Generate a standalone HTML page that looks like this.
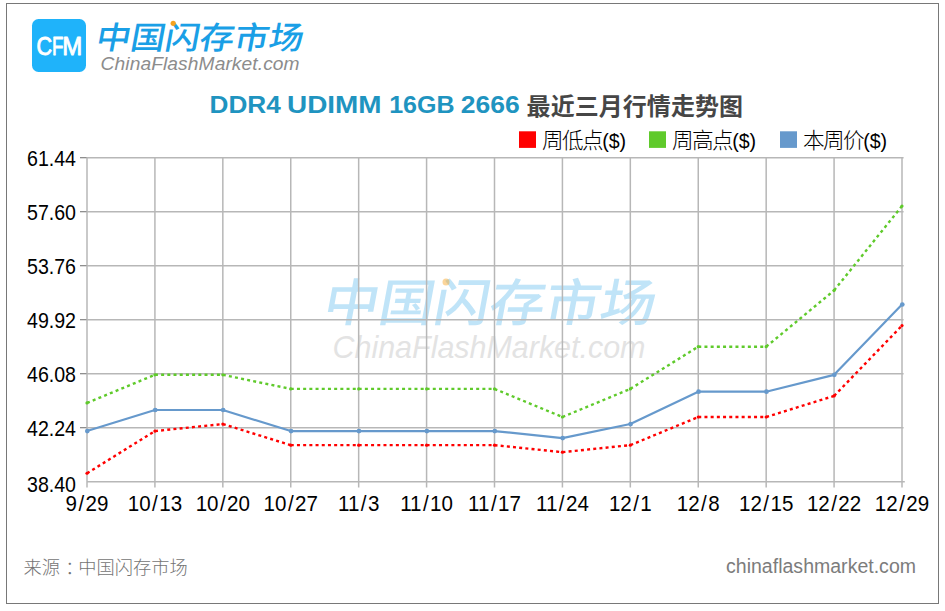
<!DOCTYPE html>
<html lang="zh-CN"><head><meta charset="utf-8"><title>DDR4 UDIMM 16GB 2666 最近三月行情走势图</title>
<style>html,body{margin:0;padding:0;background:#fff;}body{width:945px;height:611px;overflow:hidden;}svg{display:block;}text{font-family:"Liberation Sans", "Noto Sans CJK SC", sans-serif;}</style></head><body>
<svg width="945" height="611" viewBox="0 0 945 611">
<rect x="0" y="0" width="945" height="611" fill="#fff"/>
<rect x="6.5" y="3.5" width="932" height="600" fill="#fff" stroke="#787878" stroke-width="1"/>
<rect x="32" y="19" width="54" height="53" rx="6.5" ry="6.5" fill="#1fb3fa"/>
<g font-size="26.4" fill="#fff" stroke="#fff" stroke-width="0.9" stroke-linejoin="round">
<text x="36.4" y="54.6" textLength="15.6" lengthAdjust="spacingAndGlyphs">C</text>
<text x="52.1" y="54.6" textLength="11.4" lengthAdjust="spacingAndGlyphs">F</text>
<text x="62.3" y="54.6" textLength="20" lengthAdjust="spacingAndGlyphs">M</text>
</g>
<g transform="translate(94.5,48.6) skewX(-10.5) scale(1.1,1)"><text x="0" y="0" font-size="31.5" font-weight="500" fill="#1a9fe6" textLength="188.5" lengthAdjust="spacing">中国闪存市场</text></g>
<circle cx="173.2" cy="23.3" r="2.6" fill="#f6a21e"/>
<text x="100.6" y="70.3" font-size="19.2" font-style="italic" fill="#8c8c8c" textLength="199" lengthAdjust="spacing">ChinaFlashMarket.com</text>
<g font-size="24.6" font-weight="700" fill="#1f94c0">
<text x="209.6" y="112.6" textLength="71.2" lengthAdjust="spacingAndGlyphs">DDR4</text>
<text x="287" y="112.6" textLength="94.6" lengthAdjust="spacingAndGlyphs">UDIMM</text>
<text x="389.2" y="112.6" textLength="65.4" lengthAdjust="spacingAndGlyphs">16GB</text>
<text x="460.8" y="112.6" textLength="59" lengthAdjust="spacingAndGlyphs">2666</text>
</g>
<text x="526.6" y="114.7" font-size="24" font-weight="700" fill="#464646" textLength="216.4" lengthAdjust="spacing">最近三月行情走势图</text>
<rect x="519" y="131.3" width="17" height="16.6" fill="#ff0000"/>
<text x="542" y="147.9" font-size="21.6" font-weight="300" fill="#000" letter-spacing="-1.6">周低点<tspan font-size="19.6" letter-spacing="0" dx="0.2" dy="-0.4">($)</tspan></text>
<rect x="649" y="131.3" width="17" height="16.6" fill="#5fca2b"/>
<text x="672" y="147.9" font-size="21.6" font-weight="300" fill="#000" letter-spacing="-1.6">周高点<tspan font-size="19.6" letter-spacing="0" dx="0.2" dy="-0.4">($)</tspan></text>
<rect x="780" y="131.3" width="17" height="16.6" fill="#6699cc"/>
<text x="803" y="147.9" font-size="21.6" font-weight="300" fill="#000" letter-spacing="-1.6">本周价<tspan font-size="19.6" letter-spacing="0" dx="0.2" dy="-0.4">($)</tspan></text>
<g opacity="0.27">
<g transform="translate(321,320.5) skewX(-10.5) scale(1.1,1)"><text x="0" y="0" font-size="50.7" font-weight="500" fill="#1a9fe6" textLength="302" lengthAdjust="spacing">中国闪存市场</text></g>
<text x="332.5" y="358.3" font-size="30.5" font-style="italic" fill="#888888" opacity="0.85" textLength="313" lengthAdjust="spacing">ChinaFlashMarket.com</text>
</g>
<circle cx="446" cy="282" r="3.5" fill="#f6a21e" opacity="0.45"/>
<g stroke="#b7b7b7" stroke-width="1.5" fill="none" transform="translate(0,-0.25)">
<line x1="87.00" y1="158" x2="87.00" y2="487.8"/>
<line x1="154.92" y1="158" x2="154.92" y2="487.8"/>
<line x1="222.83" y1="158" x2="222.83" y2="487.8"/>
<line x1="290.75" y1="158" x2="290.75" y2="487.8"/>
<line x1="358.67" y1="158" x2="358.67" y2="487.8"/>
<line x1="426.58" y1="158" x2="426.58" y2="487.8"/>
<line x1="494.50" y1="158" x2="494.50" y2="487.8"/>
<line x1="562.42" y1="158" x2="562.42" y2="487.8"/>
<line x1="630.33" y1="158" x2="630.33" y2="487.8"/>
<line x1="698.25" y1="158" x2="698.25" y2="487.8"/>
<line x1="766.17" y1="158" x2="766.17" y2="487.8"/>
<line x1="834.08" y1="158" x2="834.08" y2="487.8"/>
<line x1="902.00" y1="158" x2="902.00" y2="487.8"/>
<line x1="80" y1="158" x2="903.6" y2="158"/>
<line x1="80" y1="212" x2="903.6" y2="212"/>
<line x1="80" y1="266" x2="903.6" y2="266"/>
<line x1="80" y1="320" x2="903.6" y2="320"/>
<line x1="80" y1="374" x2="903.6" y2="374"/>
<line x1="80" y1="428" x2="903.6" y2="428"/>
<line x1="87" y1="482" x2="904.8" y2="482"/>
</g>
<g stroke="#8e8e8e" stroke-width="1" fill="none">
<line x1="80" y1="157.5" x2="86.4" y2="157.5"/>
<line x1="80" y1="211.5" x2="86.4" y2="211.5"/>
<line x1="80" y1="265.5" x2="86.4" y2="265.5"/>
<line x1="80" y1="319.5" x2="86.4" y2="319.5"/>
<line x1="80" y1="373.5" x2="86.4" y2="373.5"/>
<line x1="80" y1="427.5" x2="86.4" y2="427.5"/>
</g>
<g font-size="21.4" fill="#000" text-anchor="end">
<text transform="translate(76.0,166.3) scale(0.915,1)" x="0" y="0">61.44</text>
<text transform="translate(76.0,220.3) scale(0.915,1)" x="0" y="0">57.60</text>
<text transform="translate(76.0,274.3) scale(0.915,1)" x="0" y="0">53.76</text>
<text transform="translate(76.0,328.3) scale(0.915,1)" x="0" y="0">49.92</text>
<text transform="translate(76.0,382.3) scale(0.915,1)" x="0" y="0">46.08</text>
<text transform="translate(76.0,436.3) scale(0.915,1)" x="0" y="0">42.24</text>
<text transform="translate(76.0,491.9) scale(0.915,1)" x="0" y="0">38.40</text>
</g>
<g font-size="21.4" fill="#000" text-anchor="middle">
<text transform="translate(87.00,510.7) scale(0.96,1)" x="0" y="0">9<tspan dx="1.5">/</tspan><tspan dx="1.5">29</tspan></text>
<text transform="translate(154.92,510.7) scale(0.96,1)" x="0" y="0">10<tspan dx="1.5">/</tspan><tspan dx="1.5">13</tspan></text>
<text transform="translate(222.83,510.7) scale(0.96,1)" x="0" y="0">10<tspan dx="1.5">/</tspan><tspan dx="1.5">20</tspan></text>
<text transform="translate(290.75,510.7) scale(0.96,1)" x="0" y="0">10<tspan dx="1.5">/</tspan><tspan dx="1.5">27</tspan></text>
<text transform="translate(358.67,510.7) scale(0.96,1)" x="0" y="0">11<tspan dx="1.5">/</tspan><tspan dx="1.5">3</tspan></text>
<text transform="translate(426.58,510.7) scale(0.96,1)" x="0" y="0">11<tspan dx="1.5">/</tspan><tspan dx="1.5">10</tspan></text>
<text transform="translate(494.50,510.7) scale(0.96,1)" x="0" y="0">11<tspan dx="1.5">/</tspan><tspan dx="1.5">17</tspan></text>
<text transform="translate(562.42,510.7) scale(0.96,1)" x="0" y="0">11<tspan dx="1.5">/</tspan><tspan dx="1.5">24</tspan></text>
<text transform="translate(630.33,510.7) scale(0.96,1)" x="0" y="0">12<tspan dx="1.5">/</tspan><tspan dx="1.5">1</tspan></text>
<text transform="translate(698.25,510.7) scale(0.96,1)" x="0" y="0">12<tspan dx="1.5">/</tspan><tspan dx="1.5">8</tspan></text>
<text transform="translate(766.17,510.7) scale(0.96,1)" x="0" y="0">12<tspan dx="1.5">/</tspan><tspan dx="1.5">15</tspan></text>
<text transform="translate(834.08,510.7) scale(0.96,1)" x="0" y="0">12<tspan dx="1.5">/</tspan><tspan dx="1.5">22</tspan></text>
<text transform="translate(902.00,510.7) scale(0.96,1)" x="0" y="0">12<tspan dx="1.5">/</tspan><tspan dx="1.5">29</tspan></text>
</g>
<g fill="none" stroke="#ff0000" stroke-width="2.4" stroke-dasharray="3 3.2">
<line x1="87.00" y1="473.26" x2="154.92" y2="431.07"/>
<line x1="154.92" y1="431.07" x2="222.83" y2="424.04"/>
<line x1="222.83" y1="424.04" x2="290.75" y2="445.14"/>
<line x1="290.75" y1="445.14" x2="358.67" y2="445.14"/>
<line x1="358.67" y1="445.14" x2="426.58" y2="445.14"/>
<line x1="426.58" y1="445.14" x2="494.50" y2="445.14"/>
<line x1="494.50" y1="445.14" x2="562.42" y2="452.17"/>
<line x1="562.42" y1="452.17" x2="630.33" y2="445.14"/>
<line x1="630.33" y1="445.14" x2="698.25" y2="417.01"/>
<line x1="698.25" y1="417.01" x2="766.17" y2="417.01"/>
<line x1="766.17" y1="417.01" x2="834.08" y2="395.92"/>
<line x1="834.08" y1="395.92" x2="902.00" y2="325.61"/>
</g>
<g fill="#ff0000">
<circle cx="87.00" cy="473.26" r="1.6"/>
<circle cx="154.92" cy="431.07" r="1.6"/>
<circle cx="222.83" cy="424.04" r="1.6"/>
<circle cx="290.75" cy="445.14" r="1.6"/>
<circle cx="358.67" cy="445.14" r="1.6"/>
<circle cx="426.58" cy="445.14" r="1.6"/>
<circle cx="494.50" cy="445.14" r="1.6"/>
<circle cx="562.42" cy="452.17" r="1.6"/>
<circle cx="630.33" cy="445.14" r="1.6"/>
<circle cx="698.25" cy="417.01" r="1.6"/>
<circle cx="766.17" cy="417.01" r="1.6"/>
<circle cx="834.08" cy="395.92" r="1.6"/>
<circle cx="902.00" cy="325.61" r="1.6"/>
</g>
<g fill="none" stroke="#5fca2b" stroke-width="2.4" stroke-dasharray="3 3.2">
<line x1="87.00" y1="402.95" x2="154.92" y2="374.82"/>
<line x1="154.92" y1="374.82" x2="222.83" y2="374.82"/>
<line x1="222.83" y1="374.82" x2="290.75" y2="388.89"/>
<line x1="290.75" y1="388.89" x2="358.67" y2="388.89"/>
<line x1="358.67" y1="388.89" x2="426.58" y2="388.89"/>
<line x1="426.58" y1="388.89" x2="494.50" y2="388.89"/>
<line x1="494.50" y1="388.89" x2="562.42" y2="417.01"/>
<line x1="562.42" y1="417.01" x2="630.33" y2="388.89"/>
<line x1="630.33" y1="388.89" x2="698.25" y2="346.70"/>
<line x1="698.25" y1="346.70" x2="766.17" y2="346.70"/>
<line x1="766.17" y1="346.70" x2="834.08" y2="290.45"/>
<line x1="834.08" y1="290.45" x2="902.00" y2="206.07"/>
</g>
<g fill="#5fca2b">
<circle cx="87.00" cy="402.95" r="1.6"/>
<circle cx="154.92" cy="374.82" r="1.6"/>
<circle cx="222.83" cy="374.82" r="1.6"/>
<circle cx="290.75" cy="388.89" r="1.6"/>
<circle cx="358.67" cy="388.89" r="1.6"/>
<circle cx="426.58" cy="388.89" r="1.6"/>
<circle cx="494.50" cy="388.89" r="1.6"/>
<circle cx="562.42" cy="417.01" r="1.6"/>
<circle cx="630.33" cy="388.89" r="1.6"/>
<circle cx="698.25" cy="346.70" r="1.6"/>
<circle cx="766.17" cy="346.70" r="1.6"/>
<circle cx="834.08" cy="290.45" r="1.6"/>
<circle cx="902.00" cy="206.07" r="1.6"/>
</g>
<polyline points="87.00,431.07 154.92,409.98 222.83,409.98 290.75,431.07 358.67,431.07 426.58,431.07 494.50,431.07 562.42,438.11 630.33,424.04 698.25,391.70 766.17,391.70 834.08,374.82 902.00,304.51" fill="none" stroke="#6699cc" stroke-width="2.2" stroke-linejoin="round"/>
<g fill="#6699cc">
<circle cx="87.30" cy="431.07" r="2.35"/>
<circle cx="155.22" cy="409.98" r="2.35"/>
<circle cx="223.13" cy="409.98" r="2.35"/>
<circle cx="291.05" cy="431.07" r="2.35"/>
<circle cx="358.97" cy="431.07" r="2.35"/>
<circle cx="426.88" cy="431.07" r="2.35"/>
<circle cx="494.80" cy="431.07" r="2.35"/>
<circle cx="562.72" cy="438.11" r="2.35"/>
<circle cx="630.63" cy="424.04" r="2.35"/>
<circle cx="698.55" cy="391.70" r="2.35"/>
<circle cx="766.47" cy="391.70" r="2.35"/>
<circle cx="834.38" cy="374.82" r="2.35"/>
<circle cx="902.30" cy="304.51" r="2.35"/>
</g>
<text x="23.6" y="573.5" font-size="18.25" font-weight="300" fill="#747474">来源<tspan dx="5.2">：</tspan><tspan dx="-5.2">中国闪存市场</tspan></text>
<text x="726" y="573" font-size="19.5" fill="#7c7c7c" textLength="190" lengthAdjust="spacing">chinaflashmarket.com</text>
</svg></body></html>
